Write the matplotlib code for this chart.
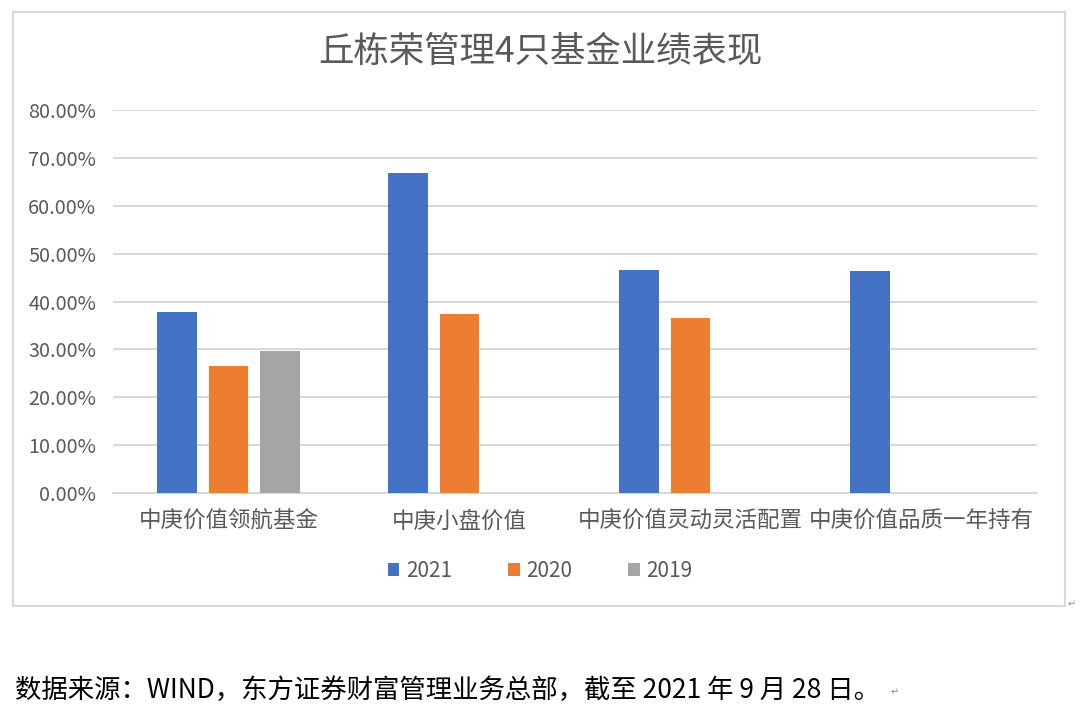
import numpy as np
import matplotlib.pyplot as plt
from matplotlib.patches import Rectangle
from matplotlib.ticker import FuncFormatter

plt.rcParams['font.family'] = ['Noto Sans CJK SC', 'DejaVu Sans']

funds = ["中庚价值领航基金", "中庚小盘价值", "中庚价值灵动灵活配置", "中庚价值品质一年持有"]
years = ["2021", "2020", "2019"]
r2021 = [37.8, 66.8, 46.6, 46.3]
r2020 = [26.5, 37.4, 36.5, np.nan]
r2019 = [29.6, np.nan, np.nan, np.nan]
colors = ["#4472C4", "#ED7D31", "#A5A5A5"]

fig = plt.figure(figsize=(10.8, 7.12), dpi=100)

# chart frame
fig.patches.append(Rectangle((13 / 1080, 1 - 606 / 712), 1052 / 1080, 594 / 712,
                             transform=fig.transFigure, fill=False,
                             edgecolor="#D9D9D9", linewidth=1.5))

ax = fig.add_axes([113 / 1080, 1 - 493 / 712, 924 / 1080, 383 / 712])
x = np.arange(len(funds))
w = 0.173
step = 0.221
for i, (vals, yr) in enumerate(zip([r2021, r2020, r2019], years)):
    ax.bar(x + (i - 1) * step, vals, width=w, color=colors[i], label=yr, zorder=3)

ax.set_xlim(-0.5, 3.5)
ax.set_ylim(0, 80)
ax.set_yticks(np.arange(0, 81, 10))
ax.yaxis.set_major_formatter(FuncFormatter(lambda v, p: f"{v:.2f}%"))
ax.grid(axis="y", color="#D9D9D9", linewidth=1.5, zorder=0)
for s in ["top", "right", "left"]:
    ax.spines[s].set_visible(False)
ax.spines["bottom"].set_color("#D9D9D9")
ax.spines["bottom"].set_linewidth(1.5)
ax.tick_params(length=0)
ax.tick_params(axis="y", labelsize=14.3, labelcolor="#595959", pad=12)
ax.set_xticks(x)
ax.set_xticklabels(funds, fontsize=16.2, color="#595959")
ax.tick_params(axis="x", pad=12)

fig.text(0.5, 1 - 52 / 712, "丘栋荣管理4只基金业绩表现", ha="center", va="center",
         fontsize=25.5, color="#595959")

leg = fig.legend(loc="center", bbox_to_anchor=(0.5, 1 - 571 / 712), ncol=3,
                 frameon=False, fontsize=15, handlelength=0.55, handleheight=0.55,
                 handletextpad=0.3, columnspacing=2.7)
for t in leg.get_texts():
    t.set_color("#595959")

fig.text(1072 / 1080, 1 - 604 / 712, "↵", ha="center", va="center", fontsize=7, color="#909090")
fig.text(15 / 1080, 1 - 690 / 712, "数据来源：WIND，东方证券财富管理业务总部，截至 2021 年 9 月 28 日。",
         ha="left", va="center", fontsize=19, color="black")
fig.text(895 / 1080, 1 - 692 / 712, "↵", ha="center", va="center", fontsize=7, color="#909090")

fig.savefig("out.png", dpi=100)
